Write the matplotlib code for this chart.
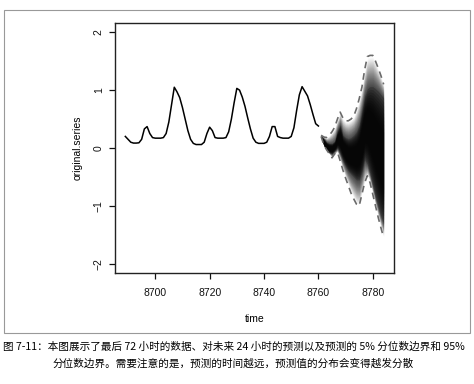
import matplotlib
matplotlib.use("Agg")
import matplotlib.pyplot as plt
import numpy as np
from matplotlib.patches import Rectangle

# last 72 observed hours
hours = np.arange(8689, 8761)
series = [0.20, 0.15, 0.10, 0.085, 0.085, 0.09, 0.15, 0.33, 0.37, 0.25, 0.18, 0.17,
          0.17, 0.17, 0.18, 0.25, 0.45, 0.75, 1.05, 0.97, 0.87, 0.70, 0.50, 0.30,
          0.15, 0.08, 0.06, 0.06, 0.06, 0.10, 0.25, 0.36, 0.30, 0.18, 0.17, 0.17,
          0.17, 0.18, 0.28, 0.50, 0.78, 1.03, 1.00, 0.88, 0.72, 0.52, 0.33, 0.17,
          0.10, 0.08, 0.08, 0.08, 0.10, 0.20, 0.37, 0.37, 0.20, 0.18, 0.17, 0.17,
          0.17, 0.20, 0.35, 0.65, 0.92, 1.06, 0.98, 0.90, 0.75, 0.58, 0.42, 0.38]

# 24 forecast hours: 5% / 95% bounds and the dense core of the simulated paths
fc_hours = np.arange(8761, 8785)
fc_upper95 = [0.22, 0.19, 0.18, 0.22, 0.28, 0.36, 0.50, 0.62, 0.52, 0.47, 0.47, 0.50,
              0.55, 0.68, 0.85, 1.05, 1.35, 1.58, 1.60, 1.60, 1.50, 1.38, 1.25, 1.10]
fc_lower05 = [0.20, 0.05, -0.03, -0.10, -0.17, -0.10, -0.07, -0.22, -0.38, -0.52, -0.65, -0.78,
              -0.88, -0.97, -1.00, -0.80, -0.60, -0.48, -0.60, -0.80, -1.00, -1.20, -1.38, -1.55]
fc_core_hi = [0.21, 0.16, 0.10, 0.08, 0.08, 0.12, 0.30, 0.40, 0.22, 0.18, 0.16, 0.18,
              0.22, 0.28, 0.40, 0.65, 0.90, 1.02, 1.06, 1.06, 1.02, 0.98, 0.92, 0.86]
fc_core_lo = [0.18, 0.03, -0.04, -0.08, -0.10, -0.05, 0.00, -0.10, -0.22, -0.32, -0.40, -0.45,
              -0.50, -0.55, -0.55, -0.42, -0.20, -0.28, -0.45, -0.65, -0.85, -1.02, -1.18, -1.30]

x_ticks = [8700, 8720, 8740, 8760, 8780]
y_ticks = [-2, -1, 0, 1, 2]

caption1 = "图 7-11：本图展示了最后 72 小时的数据、对未来 24 小时的预测以及预测的 5% 分位数边界和 95%"
caption2 = "分位数边界。需要注意的是，预测的时间越远，预测值的分布会变得越发分散"

plt.rcParams["font.family"] = ["Liberation Sans", "DejaVu Sans"]

fig = plt.figure(figsize=(4.74, 3.84), dpi=100)
ax = fig.add_axes([115 / 474, 1 - 273 / 384, 279 / 474, 250 / 384])

ax.plot(hours, series, color="black", lw=1.1)

# shaded density: nested bands getting darker towards the core
q05 = np.array(fc_lower05)
q95 = np.array(fc_upper95)
clo = np.array(fc_core_lo)
chi = np.array(fc_core_hi)
n_levels = 40
for i in range(n_levels):
    t = ((i + 1) / n_levels) ** 0.8
    ax.fill_between(fc_hours, q05 + t * (clo - q05), q95 + t * (chi - q95),
                    color="black", alpha=0.028, lw=0)
mid = (clo + chi) / 2
for i in range(10):
    t = i / 10
    ax.fill_between(fc_hours, clo + t * 0.6 * (mid - clo), chi + t * 0.6 * (mid - chi),
                    color="black", alpha=0.2, lw=0)

ax.plot(fc_hours, fc_upper95, color="#6a6a6a", lw=1.2, ls=(0, (4, 3)))
ax.plot(fc_hours, fc_lower05, color="#6a6a6a", lw=1.2, ls=(0, (4, 3)))

ax.set_xlim(8685.2, 8787.8)
ax.set_ylim(-2.16, 2.16)
ax.set_xticks(x_ticks)
ax.set_yticks(y_ticks)
ax.set_yticklabels([str(v).replace("-", "\u2212") for v in y_ticks], rotation=90, va="center")
ax.tick_params(direction="out", length=4, width=0.9, labelsize=7.5, colors="#111111")
ax.tick_params(axis="x", pad=7)
ax.tick_params(axis="y", pad=4)
for s in ax.spines.values():
    s.set_linewidth(1.0)
    s.set_color("#222222")

ax.set_xlabel("time", fontsize=7.5)
ax.set_ylabel("original.series", fontsize=7.5)
ax.xaxis.set_label_coords(0.5, (273 - 319) / 250)
ax.yaxis.set_label_coords((78 - 115) / 279, 0.5)
ax.xaxis.label.set_va("center")
ax.yaxis.label.set_va("center")

# outer frame of the book figure
fig.patches.append(Rectangle((4 / 474, 1 - 333 / 384), 466 / 474, 323 / 384,
                             transform=fig.transFigure, fill=False,
                             edgecolor="#999999", lw=0.8))

cjk = ["Noto Sans CJK SC", "DejaVu Sans"]
fig.text(3 / 474, 1 - 346 / 384, caption1, family=cjk, fontsize=7.62, va="center", ha="left")
fig.text(53 / 474, 1 - 364 / 384, caption2, family=cjk, fontsize=7.62, va="center", ha="left")

fig.savefig("out.png", dpi=100)
